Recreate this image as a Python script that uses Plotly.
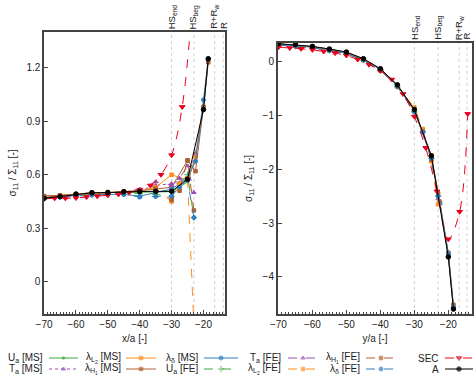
import plotly.graph_objects as go

# ---------------- data ----------------
# left panel (x/a) ------------------------------------------------
xl_ms = [-70, -65, -60, -55, -50, -45, -40, -35, -30, -25, -22.5, -20, -18.5]
xl_fe = [-70, -65, -60, -55, -50, -45, -40, -35, -30, -27.5, -25, -23]
xl_sec = [-70, -66.67, -63.33, -60, -56.67, -53.33, -50, -46.67, -43.33, -40,
          -36.67, -33.33, -30, -26.67, -23.33]
xl_a = [-70, -65, -60, -55, -50, -45, -40, -35, -30, -25, -20, -18.5]

L_Ua_MS = [0.470, 0.478, 0.490, 0.497, 0.500, 0.502, 0.503, 0.505, 0.505, 0.560, 0.700, 0.970, 1.240]
L_Ta_MS = [0.475, 0.480, 0.490, 0.495, 0.500, 0.505, 0.510, 0.540, 0.550, 0.580, 0.720, 0.980, 1.250]
L_L2_MS = [0.470, 0.480, 0.490, 0.495, 0.500, 0.505, 0.510, 0.530, 0.600, 0.570, 0.700, 0.980, 1.240]
L_H1_MS = [0.480, 0.485, 0.490, 0.500, 0.500, 0.505, 0.510, 0.520, 0.530, 0.680, 0.620, 0.980, 1.230]
L_d_MS = [0.470, 0.475, 0.485, 0.490, 0.490, 0.490, 0.480, 0.500, 0.520, 0.580, 0.675, 1.020, 1.250]
L_Ua_FE = [0.470, 0.478, 0.490, 0.495, 0.500, 0.500, 0.495, 0.490, 0.480, 0.550, 0.600, 0.360]
L_Ta_FE = [0.470, 0.480, 0.490, 0.495, 0.500, 0.505, 0.520, 0.560, 0.540, 0.580, 0.650, 0.500]
L_L2_FE = [0.470, 0.480, 0.490, 0.495, 0.500, 0.505, 0.510, 0.520, 0.450, 0.550, 0.580, -0.250]
L_H1_FE = [0.480, 0.485, 0.490, 0.500, 0.500, 0.505, 0.510, 0.520, 0.460, 0.510, 0.680, 0.400]
L_d_FE = [0.470, 0.475, 0.480, 0.485, 0.490, 0.490, 0.475, 0.478, 0.480, 0.530, 0.570, 0.360]
L_SEC = [0.465, 0.468, 0.468, 0.470, 0.475, 0.480, 0.485, 0.490, 0.500, 0.515,
         0.540, 0.600, 0.710, 0.980, 1.600]
L_A = [0.468, 0.478, 0.492, 0.499, 0.500, 0.505, 0.506, 0.507, 0.507, 0.575, 0.965, 1.250]

# right panel (y/a) -----------------------------------------------
xr_ms = [-70, -65, -60, -55, -50, -45, -40, -35, -30, -25, -22.5, -20, -18.5]
xr_fe = [-70, -65, -60, -55, -50, -45, -40, -35, -30, -27.5, -25, -23]
xr_sec = [-70, -66.67, -63.33, -60, -56.67, -53.33, -50, -46.67, -43.33, -40,
          -36.67, -33.33, -30, -26.67, -23.33, -20, -16.67, -14.3]
xr_a = [-70, -65, -60, -55, -50, -45, -40, -35, -30, -25, -20, -18.5]

R_Ua_MS = [0.33, 0.31, 0.28, 0.23, 0.17, 0.05, -0.14, -0.44, -0.90, -1.76, -2.62, -3.62, -4.58]
R_Ta_MS = [0.32, 0.30, 0.27, 0.22, 0.16, 0.04, -0.15, -0.45, -0.92, -1.78, -2.64, -3.60, -4.55]
R_L2_MS = [0.33, 0.31, 0.28, 0.23, 0.17, 0.05, -0.14, -0.44, -0.88, -1.74, -2.60, -3.58, -4.55]
R_H1_MS = [0.33, 0.31, 0.28, 0.23, 0.17, 0.05, -0.14, -0.44, -0.90, -1.77, -2.62, -3.55, -4.52]
R_d_MS = [0.32, 0.30, 0.27, 0.22, 0.16, 0.04, -0.15, -0.45, -0.91, -1.77, -2.63, -3.57, -4.56]
R_Ua_FE = [0.31, 0.29, 0.26, 0.21, 0.15, 0.03, -0.16, -0.46, -0.93, -1.30, -1.80, -2.50]
R_Ta_FE = [0.31, 0.29, 0.26, 0.21, 0.15, 0.03, -0.16, -0.46, -0.92, -1.28, -1.78, -2.55]
R_L2_FE = [0.31, 0.29, 0.26, 0.21, 0.15, 0.03, -0.16, -0.45, -0.85, -1.25, -1.85, -2.65]
R_H1_FE = [0.31, 0.29, 0.26, 0.21, 0.15, 0.03, -0.16, -0.46, -0.92, -1.30, -1.82, -2.45]
R_d_FE = [0.31, 0.29, 0.26, 0.21, 0.15, 0.03, -0.16, -0.46, -0.93, -1.31, -1.80, -2.50]
R_SEC = [0.27, 0.255, 0.24, 0.22, 0.19, 0.16, 0.115, 0.04, -0.055, -0.17,
         -0.33, -0.60, -1.02, -1.60, -2.41, -3.30, -2.79, -0.97]
R_A = [0.335, 0.317, 0.285, 0.236, 0.180, 0.056, -0.130, -0.430, -0.890, -1.750, -3.630, -4.600]

marker_lines_left = [-30, -23, -16.5, -13.8]
marker_lines_right = [-30, -23, -16.8, -14.5]
marker_labels = ["HS<sub>end</sub>", "HS<sub>beg</sub>", "R+R<sub>w</sub>", "R"]

left_ticks = [0, 0.3, 0.6, 0.9, 1.2]
left_ticktext = ["0", "0.3", "0.6", "0.9", "1.2"]
right_ticks = [0, -1, -2, -3, -4]
x_ticks = [-70, -60, -50, -40, -30, -20]

# ---------------- styles ----------------
GREEN = "#3aa83a"
PURPLE = "#9b4fb5"
ORANGE = "#ff8c1a"
BROWN = "#b0602e"
BLUE = "#2f7fc1"
RED = "#e8001c"
BLACK = "#000000"

# name, color, dash, symbol, left x, left y, right x, right y, legend col, legend row, marker size
series = [
    ("U<sub>a</sub> [MS]", GREEN, "solid", "circle", xl_ms, L_Ua_MS, xr_ms, R_Ua_MS, 0, 0, 2.5),
    ("T<sub>a</sub> [MS]", PURPLE, "dot", "triangle-up", xl_ms, L_Ta_MS, xr_ms, R_Ta_MS, 0, 1, 4),
    ("λ<sub>L<sub>2</sub></sub> [MS]", ORANGE, "solid", "square", xl_ms, L_L2_MS, xr_ms, R_L2_MS, 1, 0, 3.5),
    ("λ<sub>H<sub>1</sub></sub> [MS]", BROWN, "solid", "square", xl_ms, L_H1_MS, xr_ms, R_H1_MS, 1, 1, 3.5),
    ("λ<sub>δ</sub> [MS]", BLUE, "solid", "circle", xl_ms, L_d_MS, xr_ms, R_d_MS, 2, 0, 4),
    ("U<sub>a</sub> [FE]", GREEN, "dash", "cross-thin", xl_fe, L_Ua_FE, xr_fe, R_Ua_FE, 2, 1, 4.5),
    ("T<sub>a</sub> [FE]", PURPLE, "dash", "triangle-up", xl_fe, L_Ta_FE, xr_fe, R_Ta_FE, 3, 0, 4),
    ("λ<sub>L<sub>2</sub></sub> [FE]", ORANGE, "dash", "square", xl_fe, L_L2_FE, xr_fe, R_L2_FE, 3, 1, 3.5),
    ("λ<sub>H<sub>1</sub></sub> [FE]", BROWN, "dash", "square", xl_fe, L_H1_FE, xr_fe, R_H1_FE, 4, 0, 3.5),
    ("λ<sub>δ</sub> [FE]", BLUE, "dash", "circle", xl_fe, L_d_FE, xr_fe, R_d_FE, 4, 1, 4),
    ("SEC", RED, "dash", "triangle-down", xl_sec, L_SEC, xr_sec, R_SEC, 5, 0, 5),
    ("A", BLACK, "solid", "circle", xl_a, L_A, xr_a, R_A, 5, 1, 4.5),
]

# legend layout in page pixels (text right edge, sample start, sample end), rows y
leg_text_right = [45, 123, 200, 283, 362, 441]
leg_sample = [(49, 78), (126, 156), (204, 238), (288, 318), (366, 396), (445, 473)]
leg_rows = [358, 369]

W, H = 474, 376
fig = go.Figure()
annotations = []
for name, col, dash, sym, lx, ly, rx, ry, lc, lr, msize in series:
    shape = "spline" if name == "SEC" else "linear"
    mk = dict(symbol=sym, size=msize, color=col, line=dict(color=col, width=1))
    ln = dict(color=col, width=1, dash=dash, shape=shape)
    fig.add_trace(go.Scatter(x=lx, y=ly, mode="lines+markers", name=name, line=ln,
                             marker=mk, xaxis="x", yaxis="y", showlegend=False))
    fig.add_trace(go.Scatter(x=rx, y=ry, mode="lines+markers", name=name, line=ln,
                             marker=mk, xaxis="x2", yaxis="y2", showlegend=False))
    # legend key (page-pixel overlay axis)
    x0, x1 = leg_sample[lc]
    yrow = leg_rows[lr]
    fig.add_trace(go.Scatter(x=[x0, (x0 + x1) / 2, x1], y=[yrow, yrow, yrow],
                             mode="lines+markers", line=dict(color=col, width=1, dash=dash),
                             marker=dict(symbol=sym, size=[0, msize, 0], color=col,
                                         line=dict(color=col, width=1)),
                             xaxis="x3", yaxis="y3", showlegend=False, hoverinfo="skip"))
    annotations.append(dict(xref="paper", yref="paper", x=(leg_text_right[lc]) / W,
                            y=1 - yrow / H, text=name, showarrow=False,
                            xanchor="right", yanchor="middle",
                            font=dict(size=10, color="#222")))

# vertical dotted reference lines + top labels
shapes = []
for v, lab in zip(marker_lines_left, marker_labels):
    shapes.append(dict(type="line", xref="x", yref="y domain", x0=v, x1=v, y0=0, y1=1,
                       line=dict(color="#c4c4c4", width=0.8, dash="dot"), layer="below"))
    annotations.append(dict(xref="x", yref="paper", x=v, y=0.917, text=lab, showarrow=False,
                            textangle=-90, xanchor="center", yanchor="bottom",
                            font=dict(size=9.5, color="#222")))
for v, lab in zip(marker_lines_right, marker_labels):
    shapes.append(dict(type="line", xref="x2", yref="y2 domain", x0=v, x1=v, y0=0, y1=1,
                       line=dict(color="#c4c4c4", width=0.8, dash="dot"), layer="below"))
    annotations.append(dict(xref="x2", yref="paper", x=v, y=0.888, text=lab, showarrow=False,
                            textangle=-90, xanchor="center", yanchor="bottom",
                            font=dict(size=9.5, color="#222")))

axis_common = dict(showline=True, linecolor="#444", linewidth=1.5, mirror=True,
                   ticks="inside", ticklen=4, tickcolor="#444", showgrid=False,
                   zeroline=False, tickfont=dict(size=10, color="#222"), automargin=False)

fig.update_layout(
    width=W, height=H, margin=dict(l=0, r=0, t=0, b=0, autoexpand=False),
    paper_bgcolor="white", plot_bgcolor="rgba(0,0,0,0)",
    font=dict(family="Liberation Sans, Arial, sans-serif", size=10, color="#222"),
    xaxis=dict(domain=[0.093, 0.475], range=[-70, -13.2], tickvals=x_ticks,
               minor=dict(dtick=1, ticks="inside", ticklen=2, tickcolor="#444"),
               title=dict(text="x/a [-]", font=dict(size=10), standoff=6), anchor="y",
               **axis_common),
    yaxis=dict(domain=[0.165, 0.915], range=[-0.18, 1.4], tickvals=left_ticks,
               ticktext=left_ticktext,
               title=dict(text="σ<sub>11</sub> / Σ<sub>11</sub> [-]", font=dict(size=10), standoff=8),
               anchor="x", **axis_common),
    xaxis2=dict(domain=[0.586, 0.996], range=[-70.2, -13.0], tickvals=x_ticks,
                minor=dict(dtick=1, ticks="inside", ticklen=2, tickcolor="#444"),
                title=dict(text="y/a [-]", font=dict(size=10), standoff=6), anchor="y2",
                **axis_common),
    yaxis2=dict(domain=[0.165, 0.886], range=[-4.69, 0.35], tickvals=right_ticks,
                title=dict(text="σ<sub>11</sub> / Σ<sub>11</sub> [-]", font=dict(size=10), standoff=8),
                anchor="x2", **axis_common),
    xaxis3=dict(domain=[0, 1], range=[0, W], visible=False, fixedrange=True, anchor="y3"),
    yaxis3=dict(domain=[0, 1], range=[H, 0], visible=False, fixedrange=True, anchor="x3"),
    shapes=shapes, annotations=annotations,
    showlegend=False,
)

fig.write_html("out.html", config={"displayModeBar": False},
               post_script="document.body.style.margin='0';document.body.style.overflow='hidden';")
